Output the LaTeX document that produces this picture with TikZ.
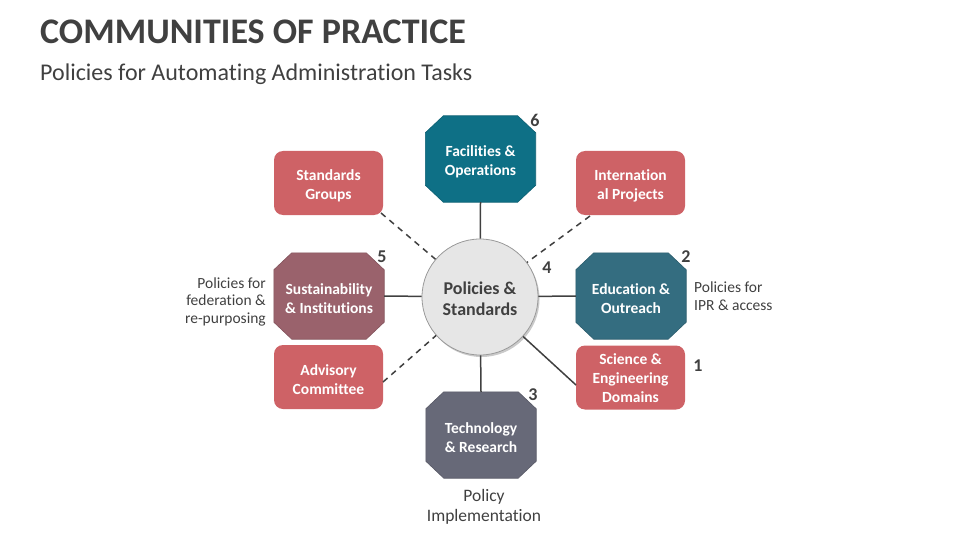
\documentclass[tikz,border=0pt]{standalone}
\usepackage{fontspec}
\setmainfont[Ligatures=NoCommon]{Carlito}
\usetikzlibrary{backgrounds,shadows}
\definecolor{txt}{HTML}{404040}
\definecolor{redbox}{HTML}{CE6266}
\definecolor{tealA}{HTML}{0E7086}
\definecolor{tealB}{HTML}{346D80}
\definecolor{mauve}{HTML}{9A626C}
\definecolor{slate}{HTML}{676978}
\definecolor{circfill}{HTML}{E6E6E6}
\definecolor{circline}{HTML}{9A9A9A}
\newcommand\octfill[2]{%
  \fill[#2, draw=#2!85!black, line width=0.6pt]
    ([xshift=18pt]#1.north west) -- ([xshift=-18pt]#1.north east) --
    ([yshift=-17pt]#1.north east) -- ([yshift=17pt]#1.south east) --
    ([xshift=-18pt]#1.south east) -- ([xshift=18pt]#1.south west) --
    ([yshift=17pt]#1.south west) -- ([yshift=-17pt]#1.north west) -- cycle;}
\tikzset{
  boxtext/.style={text=white, align=center, font=\fontsize{15.5}{19}\selectfont\bfseries, inner sep=0pt},
  btext/.style={label={[boxtext, yshift=-2.5pt]center:{#1}}},
  btextb/.style={label={[boxtext, yshift=-0.5pt]center:{#1}}},
  rbox/.style={fill=redbox, rounded corners=9pt, minimum width=109pt, minimum height=64pt, inner sep=0pt},
  octo/.style={minimum width=110pt, minimum height=86pt, inner sep=0pt},
  num/.style={text=txt, font=\fontsize{18}{20}\selectfont\bfseries, inner sep=0pt},
  note/.style={text=txt, font=\fontsize{15.5}{17.5}\selectfont, inner sep=0pt},
  solidc/.style={draw=txt, line width=1.5pt},
  dashc/.style={draw=txt, line width=1.5pt, dash pattern=on 6pt off 5pt},
}
\begin{document}
\begin{tikzpicture}[x=1pt,y=-1pt]
\useasboundingbox (0,0) rectangle (960,540);
% titles
\node[anchor=base west, inner sep=0pt, text=txt, font=\fontsize{36}{40}\selectfont\bfseries] (title) at (40,44) {COMMUNITIES OF PRACTICE};
\node[anchor=base west, inner sep=0pt, text=txt, font=\fontsize{24}{28}\selectfont] (subtitle) at (40,81) {Policies for Automating Administration Tasks};
% center
\node[circle, minimum size=116pt, inner sep=0pt, fill=circfill, draw=circline, line width=0.8pt,
      drop shadow={shadow xshift=1.5pt, shadow yshift=-2pt, opacity=0.35, fill=black!60}] (c) at (480,297) {};
\node[text=txt, align=center, inner sep=0pt, font=\fontsize{18}{21}\selectfont\bfseries] (ctext) at (480,298.5) {Policies \&\\Standards};
% octagons
\node[octo, btext={Facilities \&\\Operations}] (fac) at (480.5,159) {};
\node[octo, btext={Education \&\\Outreach}] (edu) at (631,296) {};
\node[octo, btext={Sustainability\\\& Institutions}] (sus) at (329,296) {};
\node[octo, btext={Technology\\\& Research}] (tec) at (481,435) {};
\begin{pgfonlayer}{background}
\octfill{fac}{tealA}
\octfill{edu}{tealB}
\octfill{sus}{mauve}
\octfill{tec}{slate}
\end{pgfonlayer}
% rounded boxes
\node[rbox, btext={Standards\\Groups}] (std) at (328.5,183) {};
\node[rbox, btext={Internation\\al Projects}] (int) at (630.5,183) {};
\node[rbox, btext={Advisory\\Committee}] (adv) at (328.5,377) {};
\node[rbox, btextb={Science \&\\Engineering\\Domains}] (sci) at (630.5,377.5) {};
% numbers
\node[num] (n6) at (535,120) {6};
\node[num] (n5) at (382,257) {5};
\node[num] (n4) at (547,268) {4};
\node[num] (n2) at (686,257) {2};
\node[num] (n1) at (698,366) {1};
\node[num] (n3) at (533,395) {3};
% notes
\node[note, align=right, anchor=east] (nfed) at (266,301.5) {Policies for\\federation \&\\re-purposing};
\node[note, align=left, anchor=west] (nipr) at (694,296) {Policies for\\IPR \& access};
\node[note, align=center, font=\fontsize{17.5}{20}\selectfont] (npol) at (484,507) {Policy\\Implementation};
% connector endpoints
\coordinate (sgp) at (381,213);
\coordinate (ipp) at (590,216);
\coordinate (acp) at (383,382);
\coordinate (sep) at (576,385);
% connectors
\draw[solidc] (fac.south) -- (c);
\draw[solidc] (tec.north) -- (c);
\draw[solidc] (sus.east) -- (c);
\draw[solidc] (edu.west) -- (c);
\draw[solidc] (sep) -- (c);
\draw[dashc] (sgp) -- (c);
\draw[dashc] (ipp) -- (c);
\draw[dashc] (acp) -- (c);
\end{tikzpicture}
\end{document}
